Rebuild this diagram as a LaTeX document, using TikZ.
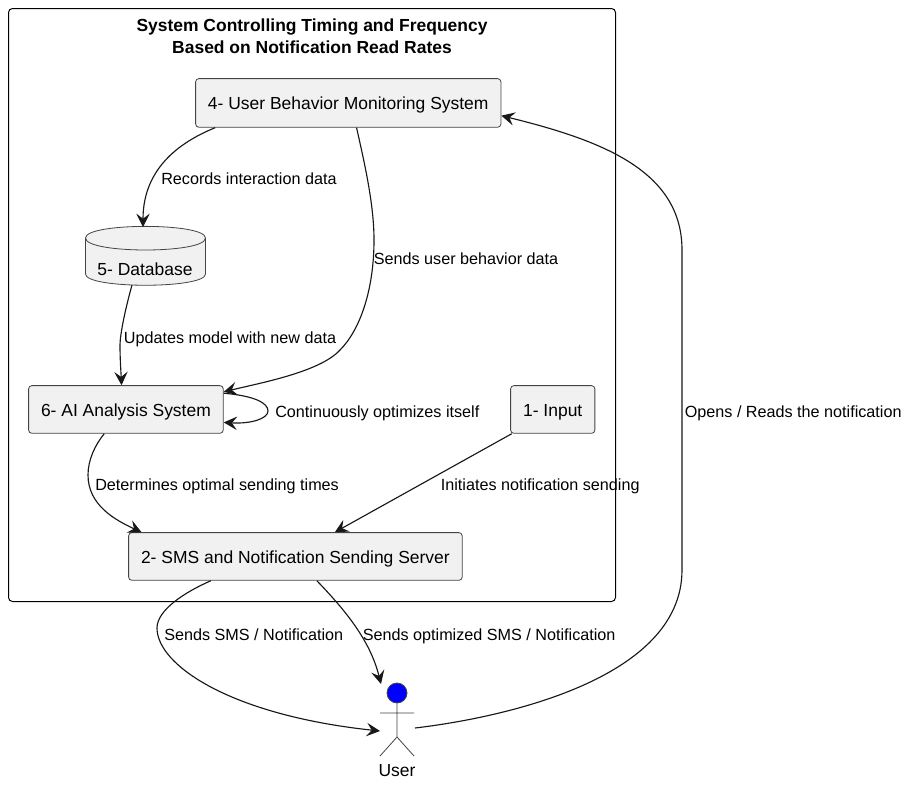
\documentclass[tikz,border=0pt]{standalone}
\usepackage{fontspec}
\setmainfont{Liberation Sans}
\usetikzlibrary{arrows.meta,shapes.geometric}
\definecolor{boxfill}{HTML}{F1F1F1}
\definecolor{boxline}{HTML}{444444}
\definecolor{ink}{HTML}{181818}
\newcommand{\boxtxt}[1]{\raisebox{-10.3pt}{\smash{#1}}}
\tikzset{
  boxnode/.style={draw=boxline,fill=boxfill,line width=0.6pt,rounded corners=2.5pt,inner sep=0pt,anchor=north west,font=\fontsize{13.1}{15}\selectfont},
  conn/.style={draw=ink,line width=0.85pt,-{Stealth[length=10pt,width=10pt,inset=3.8pt]}},
  lab/.style={anchor=base west,inner sep=0pt,font=\fontsize{12.13}{14}\selectfont,text=black},
  stick/.style={draw=boxline,line width=0.6pt}
}
\begin{document}
\begin{tikzpicture}[x=0.75pt,y=-0.75pt]
\useasboundingbox (0,0) rectangle (910,785);
\fill[white] (0,0) rectangle (910,785);
\draw[black,line width=0.75pt,rounded corners=3pt] (8.5,8.5) rectangle (615.5,601.5);
\node[anchor=center,align=center,inner sep=0pt,font=\fontsize{13.1}{16.5}\selectfont\bfseries] (title) at (312,36) {System Controlling Timing and Frequency\\Based on Notification Read Rates};

\node[boxnode,minimum width=229pt,minimum height=36.5pt] (n4) at (195.2,78.2) {\boxtxt{4- User Behavior Monitoring System}};
\node[boxnode,minimum width=146pt,minimum height=35.8pt] (n6) at (28.2,385.2) {\boxtxt{6- AI Analysis System}};
\node[boxnode,minimum width=63.2pt,minimum height=35.8pt] (n1) at (510.2,385.2) {\boxtxt{1- Input}};
\node[boxnode,minimum width=250.2pt,minimum height=35.8pt] (n2) at (128.2,532.2) {\boxtxt{2- SMS and Notification Sending Server}};

% database
\path[draw=boxline,fill=boxfill,line width=0.6pt] (85.5,238) .. controls (85.5,222.5) and (205.5,222.5) .. (205.5,238) -- (205.5,274) .. controls (205.5,289) and (85.5,289) .. (85.5,274) -- cycle;
\draw[boxline,line width=0.6pt] (85.5,238) .. controls (85.5,254) and (205.5,254) .. (205.5,238);
\node[anchor=base,inner sep=0pt,font=\fontsize{13.1}{15}\selectfont] (n5) at (145,275) {5- Database};
\coordinate (db) at (143,227);
\coordinate (dbb) at (132,285);

% actor
\node[circle,draw=boxline,fill=blue,line width=0.6pt,minimum size=15pt,inner sep=0pt] (head) at (397,693) {};
\draw[stick] (head.south) -- (397,737) (380,713) -- (414,713) (380,756) -- (397,737) -- (414,756);
\node[anchor=base,inner sep=0pt,font=\fontsize{13.1}{15}\selectfont] (user) at (397,776) {User};
\coordinate (ua) at (380,731);
\coordinate (ub) at (381,684);
\coordinate (uc) at (415,728);

% connectors
\draw[conn] ([xshift=15pt]n4.south west) .. controls (185,140) and (143,165) .. (db);
\draw[conn] ([xshift=121pt]n4.south west) .. controls (365,165) and (374,205) .. (374,240) .. controls (374,290) and (360,330) .. (340,350) .. controls (320,372) and (260,383) .. ([yshift=-5pt]n6.north east);
\draw[conn] (dbb) .. controls (125,310) and (120,335) .. (120,345) .. controls (120,360) and (121,372) .. ([xshift=70pt]n6.north west);
\draw[conn] ([yshift=-6pt]n6.north east) .. controls (255,396) and (268,403) .. (268,411) .. controls (268,419) and (250,424) .. ([yshift=8.5pt]n6.south east);
\draw[conn] ([xshift=57pt]n6.south west) .. controls (95,445) and (88,460) .. (88,475) .. controls (88,505) and (115,520) .. ([xshift=10pt]n2.north west);
\draw[conn] (n1.south west) ++(1.5,0) -- ([xshift=155pt]n2.north west);
\draw[conn] ([xshift=62pt]n2.south west) .. controls (185,592) and (157,610) .. (157,628) .. controls (157,665) and (230,715) .. (ua);
\draw[conn] ([xshift=141.5pt]n2.south west) .. controls (345,610) and (370,640) .. (ub);
\draw[conn] (uc) .. controls (500,718) and (682,680) .. (682,570) -- (682,250) .. controls (682,170) and (600,140) .. ([yshift=9pt]n4.south east);

% labels
\node[lab] (l1) at (161,184.5) {Records interaction data};
\node[lab] (l2) at (373.6,264) {Sends user behavior data};
\node[lab] (l3) at (123.6,343.5) {Updates model with new data};
\node[lab] (l4) at (275,417) {Continuously optimizes itself};
\node[lab] (l5) at (95,490.5) {Determines optimal sending times};
\node[lab] (l6) at (440.6,490.5) {Initiates notification sending};
\node[lab] (l7) at (164,640.5) {Sends SMS / Notification};
\node[lab] (l8) at (362.6,640.5) {Sends optimized SMS / Notification};
\node[lab] (l9) at (684.6,417) {Opens / Reads the notification};
\end{tikzpicture}
\end{document}
